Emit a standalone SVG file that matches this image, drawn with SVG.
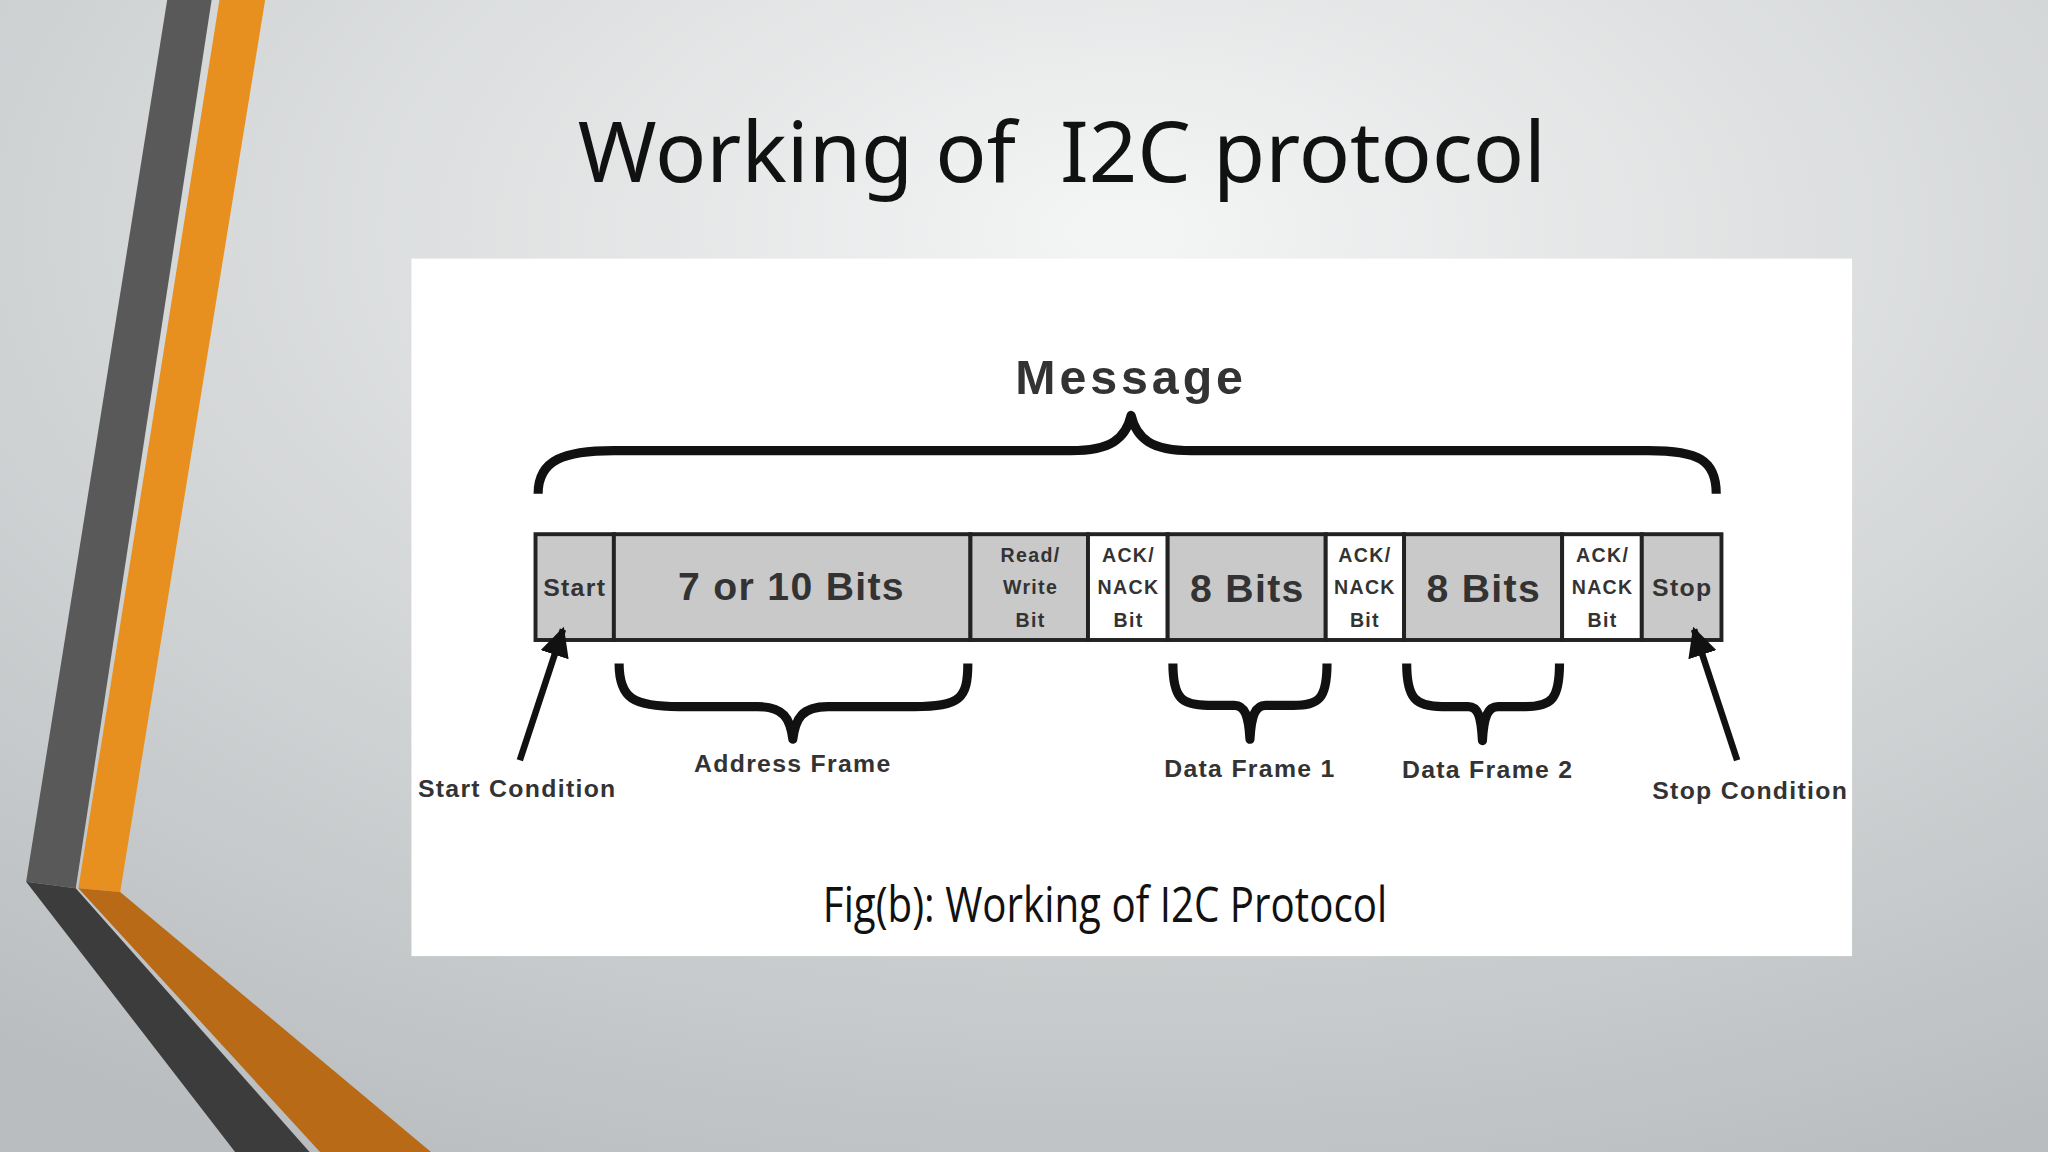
<svg xmlns="http://www.w3.org/2000/svg" width="2048" height="1152" viewBox="0 0 2048 1152">
<defs>
<radialGradient id="bg" cx="0.55" cy="0.2" r="0.9">
<stop offset="0" stop-color="#f4f5f5"/><stop offset="1" stop-color="#b9bdbf"/>
</radialGradient>
<marker id="ah" viewBox="0 0 10 10" refX="9" refY="5" markerWidth="4.5" markerHeight="4.5" orient="auto"><path d="M0,0 L10,5 L0,10 z" fill="#111"/></marker>
<style>
.cell{stroke:#222;stroke-width:3}
.g{fill:#c9c9c9}.w{fill:#fff}
.t{font-family:"Liberation Sans",Arial,sans-serif;fill:#333;text-anchor:middle;letter-spacing:1px;font-weight:bold}
.br{fill:none;stroke:#111;stroke-width:7;stroke-linejoin:round}
.ar{stroke:#111;stroke-width:5;marker-end:url(#ah)}
</style>
</defs>
<rect width="2048" height="1152" fill="url(#bg)"/>
<g transform="scale(1.30612)">
<g id="deco">
<polygon points="128,0 162,0 58,680 20,675" fill="#595959"/>
<polygon points="20,675 58,680 237,882 180,882" fill="#3c3c3c"/>
<polygon points="168,0 203,0 92,683 60,680" fill="#e8901f"/>
<polygon points="60,680 92,683 330,882 245,882" fill="#b86a16"/>
</g>
<text x="813" y="139" font-family="'Noto Sans','Open Sans',sans-serif" font-size="65" fill="#111" text-anchor="middle" xml:space="preserve">Working of  I2C protocol</text>
<rect x="315" y="198" width="1103" height="534" fill="#fff"/>
<g id="nodes">
<g id="n-start"><rect class="cell g" x="410" y="409" width="60" height="81"/><text class="t" x="440" y="456" font-size="19">Start</text></g>
<g id="n-addr"><rect class="cell g" x="470" y="409" width="273" height="81"/><text class="t" x="606" y="459" font-size="30">7 or 10 Bits</text></g>
<g id="n-rw"><rect class="cell g" x="743" y="409" width="90" height="81"/><text class="t" x="789" y="430" font-size="15">Read/</text><text class="t" x="789" y="455" font-size="15">Write</text><text class="t" x="789" y="480" font-size="15">Bit</text></g>
<g id="n-ack1"><rect class="cell w" x="833" y="409" width="61" height="81"/><text class="t" x="864" y="430" font-size="15">ACK/</text><text class="t" x="864" y="455" font-size="15">NACK</text><text class="t" x="864" y="480" font-size="15">Bit</text></g>
<g id="n-d1"><rect class="cell g" x="894" y="409" width="121" height="81"/><text class="t" x="955" y="461" font-size="30">8 Bits</text></g>
<g id="n-ack2"><rect class="cell w" x="1015" y="409" width="60" height="81"/><text class="t" x="1045" y="430" font-size="15">ACK/</text><text class="t" x="1045" y="455" font-size="15">NACK</text><text class="t" x="1045" y="480" font-size="15">Bit</text></g>
<g id="n-d2"><rect class="cell g" x="1075" y="409" width="121" height="81"/><text class="t" x="1136" y="461" font-size="30">8 Bits</text></g>
<g id="n-ack3"><rect class="cell w" x="1196" y="409" width="61" height="81"/><text class="t" x="1227" y="430" font-size="15">ACK/</text><text class="t" x="1227" y="455" font-size="15">NACK</text><text class="t" x="1227" y="480" font-size="15">Bit</text></g>
<g id="n-stop"><rect class="cell g" x="1257" y="409" width="61" height="81"/><text class="t" x="1288" y="456" font-size="19">Stop</text></g>
</g>
<g id="labels">
<text class="t" x="866" y="302" font-size="37" style="letter-spacing:3px">Message</text>
<text class="t" x="396" y="610" font-size="19">Start Condition</text>
<text class="t" x="607" y="591" font-size="19">Address Frame</text>
<text class="t" x="957" y="595" font-size="19">Data Frame 1</text>
<text class="t" x="1139" y="596" font-size="19">Data Frame 2</text>
<text class="t" x="1340" y="612" font-size="19">Stop Condition</text>
<text x="846" y="706" font-family="'Open Sans','Noto Sans',sans-serif" font-size="38" fill="#111" text-anchor="middle" textLength="432" lengthAdjust="spacingAndGlyphs">Fig(b): Working of I2C Protocol</text>
</g>
<g id="connectors">
<path class="br" d="M412,378 C412,352 432,345 470,345 L820,345 C850,345 862,336 866,318 C870,336 882,345 912,345 L1262,345 C1300,345 1314,352 1314,378"/>
<path class="br" d="M474,508 C474,535 485,541 520,541 L580,541 C600,541 605,550 607,566 C609,550 614,541 634,541 L700,541 C735,541 741,535 741,508"/>
<path class="br" d="M898,508 C898,535 905,540 925,540 L945,540 C953,540 956,548 957,566 C958,548 961,540 969,540 L990,540 C1010,540 1016,535 1016,508"/>
<path class="br" d="M1077,508 C1077,535 1084,541 1104,541 L1124,541 C1132,541 1134,549 1135,567 C1136,549 1139,541 1147,541 L1168,541 C1188,541 1194,535 1194,508"/>
<line class="ar" x1="398" y1="582" x2="431" y2="482"/>
<line class="ar" x1="1330" y1="582" x2="1297" y2="482"/>
</g>
</g>
</svg>
